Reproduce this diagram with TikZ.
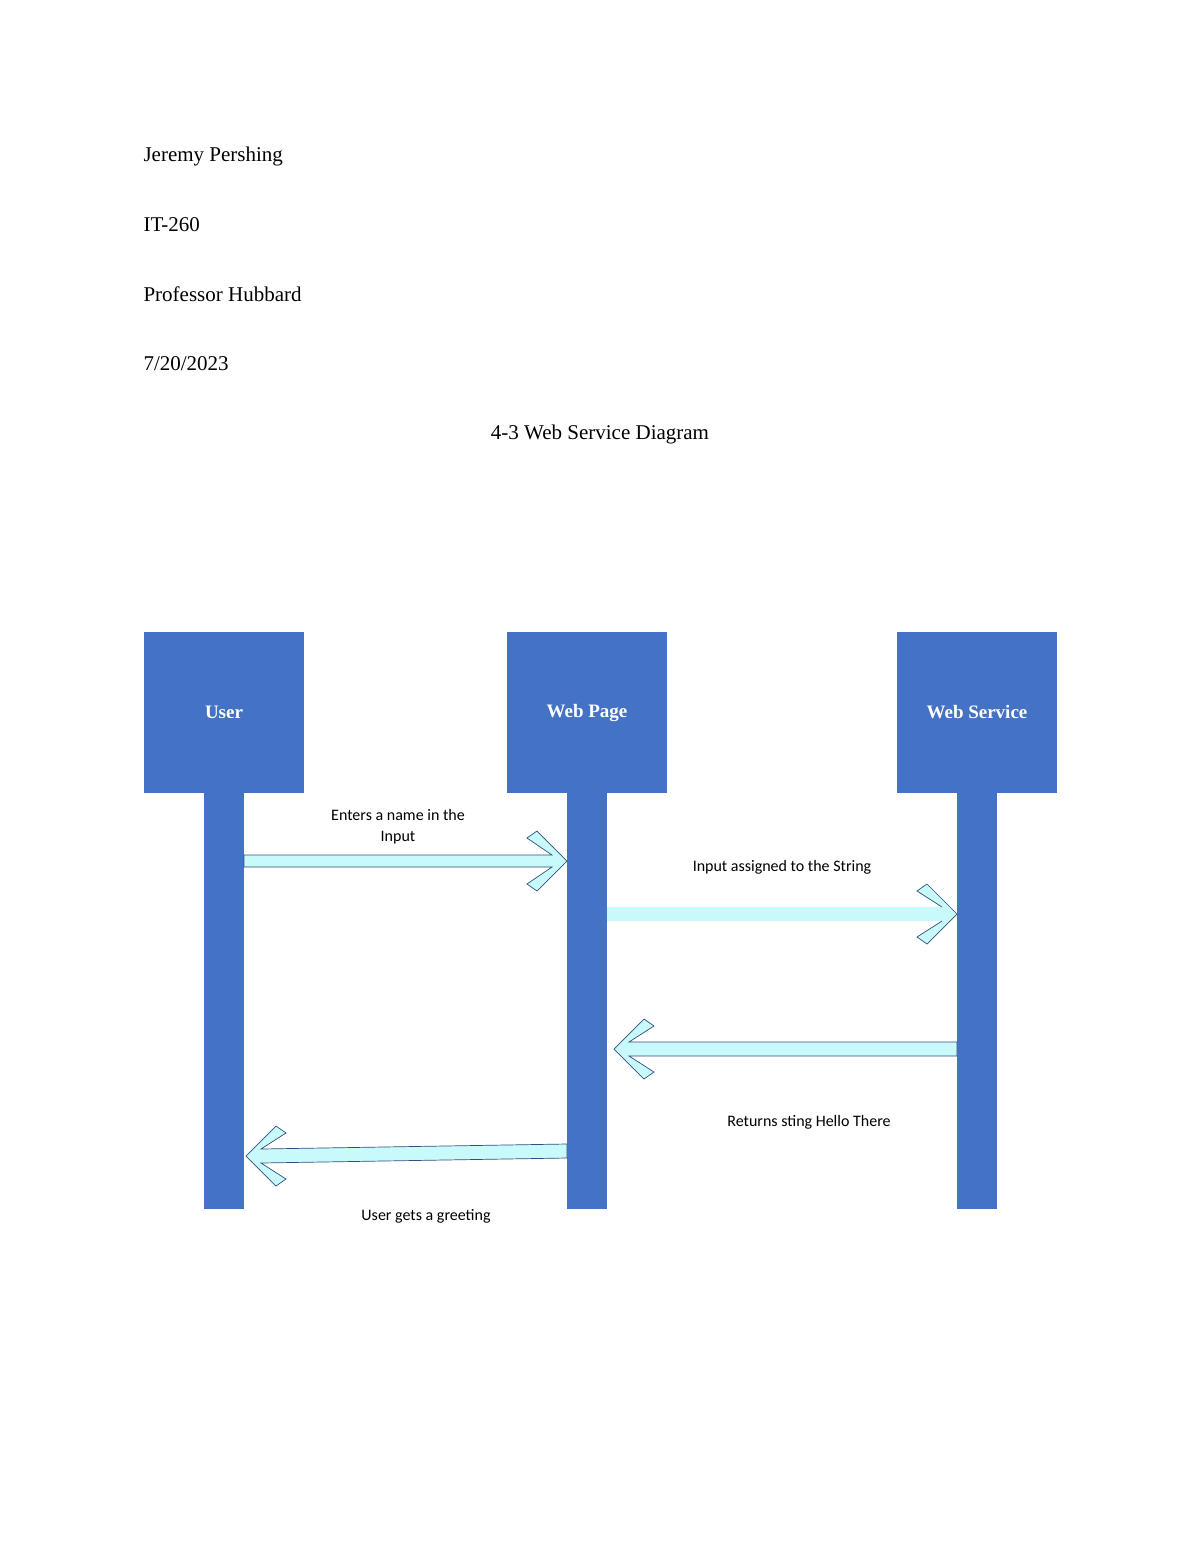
\documentclass[tikz,border=0pt]{standalone}
\usepackage{fontspec}
\setmainfont{Liberation Serif}
\newfontfamily\carl{Carlito}
\begin{document}
\begin{tikzpicture}[x=1pt,y=-1pt,
  hdr/.style={anchor=west,font=\fontsize{21}{25}\selectfont},
  actor/.style={fill=blueA,draw=none,minimum width=160,minimum height=161,text=white,font=\fontsize{19}{22}\selectfont\bfseries},
  life/.style={fill=blueA,draw=none},
  arr/.style={fill=cyanA,draw=navyA,line width=0.7},
  lbl/.style={font=\carl\fontsize{16}{21}\selectfont,align=center}]
\definecolor{blueA}{HTML}{4472C4}
\definecolor{cyanA}{HTML}{C9FAFB}
\definecolor{navyA}{HTML}{2F4F7F}
\useasboundingbox (0,0) rectangle (1200,1553);
\node[hdr] (n1) at (140,156) {Jeremy Pershing};
\node[hdr] (n2) at (140,225) {IT-260};
\node[hdr] (n3) at (140,294) {Professor Hubbard};
\node[hdr] (n4) at (140,364) {7/20/2023};
\node[font=\fontsize{21}{25}\selectfont] (title) at (600,434) {4-3 Web Service Diagram};
\fill[life] (204,793) rectangle (244,1209);
\fill[life] (567,793) rectangle (607,1209);
\fill[life] (957,793) rectangle (997,1209);
\node[actor] (user) at (224,712.5) {User};
\node[actor] (page) at (587,712.5) {Web Page};
\node[actor] (svc) at (977,712.5) {Web Service};
% arrow 1
\draw[arr] (244,855) -- (552,855) -- (527,838) -- (537,831) -- (567,861) -- (537,891) -- (527,884) -- (552,867) -- (244,867) -- cycle;
% arrow 2
\draw[arr,draw=none] (607,907) -- (942,907) -- (917,891) -- (927,884) -- (957,914) -- (927,944) -- (917,937) -- (942,921) -- (607,921) -- cycle;
\draw[navyA,line width=0.7] (942,907) -- (917,891) -- (927,884) -- (957,914) -- (927,944) -- (917,937) -- (942,921);
% arrow 3
\draw[arr] (957,1042) -- (629,1042) -- (654,1026) -- (644,1019) -- (614,1049) -- (644,1079) -- (654,1072) -- (629,1056) -- (957,1056) -- cycle;
% arrow 4
\draw[arr] (567,1144) -- (261,1149) -- (286,1133) -- (276,1126) -- (246,1156) -- (276,1186) -- (286,1179) -- (261,1163) -- (567,1158) -- cycle;
\node[lbl] (l1) at (398,827) {Enters a name in the\\Input};
\node[lbl] (l2) at (782,867) {Input assigned to the String};
\node[lbl] (l3) at (809,1122) {Returns sting Hello There};
\node[lbl] (l4) at (426,1216) {User gets a greeting};
\end{tikzpicture}
\end{document}
